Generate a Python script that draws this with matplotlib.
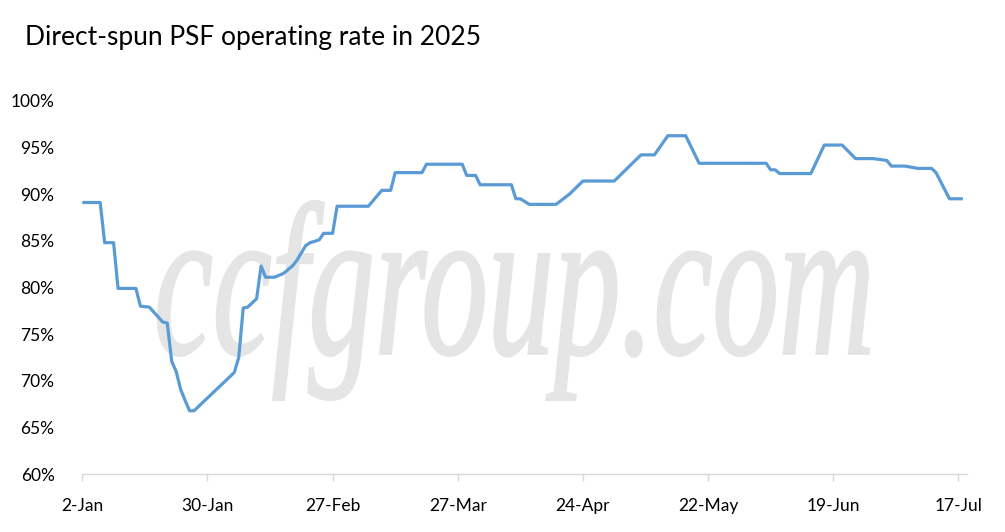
import matplotlib
matplotlib.use("Agg")
import matplotlib.pyplot as plt
import pandas as pd
from matplotlib.textpath import TextPath
from matplotlib.patches import PathPatch
from matplotlib.font_manager import FontProperties
from matplotlib.transforms import Affine2D
from matplotlib.ticker import FuncFormatter

# Taux de fonctionnement (points de rupture)
dates = [
    "2025-01-02", "2025-01-06", "2025-01-07", "2025-01-09", "2025-01-10",
    "2025-01-14", "2025-01-15", "2025-01-17", "2025-01-20", "2025-01-21",
    "2025-01-22", "2025-01-23", "2025-01-24", "2025-01-25", "2025-01-26",
    "2025-01-27", "2025-02-05", "2025-02-06", "2025-02-07", "2025-02-08",
    "2025-02-10", "2025-02-11", "2025-02-12", "2025-02-14", "2025-02-16",
    "2025-02-17", "2025-02-18", "2025-02-19", "2025-02-20", "2025-02-21",
    "2025-02-22", "2025-02-24", "2025-02-25", "2025-02-27", "2025-02-28",
    "2025-03-07", "2025-03-10", "2025-03-12", "2025-03-13", "2025-03-19",
    "2025-03-20", "2025-03-28", "2025-03-29", "2025-03-31", "2025-04-01",
    "2025-04-08", "2025-04-09", "2025-04-10", "2025-04-12", "2025-04-18",
    "2025-04-21", "2025-04-24", "2025-05-01", "2025-05-07", "2025-05-10",
    "2025-05-13", "2025-05-17", "2025-05-20", "2025-06-04", "2025-06-05",
    "2025-06-06", "2025-06-07", "2025-06-14", "2025-06-17", "2025-06-21",
    "2025-06-24", "2025-06-28", "2025-07-01", "2025-07-02", "2025-07-05",
    "2025-07-08", "2025-07-11", "2025-07-12", "2025-07-15", "2025-07-18",
]
taux = [
    89.1, 89.1, 84.8, 84.8, 79.9,
    79.9, 78.0, 77.9, 76.3, 76.2,
    72.1, 71.0, 69.1, 67.9, 66.8,
    66.8, 70.9, 72.5, 77.8, 77.9,
    78.8, 82.3, 81.1, 81.1, 81.5,
    81.9, 82.3, 82.9, 83.7, 84.5,
    84.8, 85.1, 85.8, 85.8, 88.7,
    88.7, 90.4, 90.4, 92.3, 92.3,
    93.2, 93.2, 92.0, 92.0, 91.0,
    91.0, 89.5, 89.5, 88.9, 88.9,
    90.0, 91.4, 91.4, 94.2, 94.2,
    96.25, 96.25, 93.3, 93.3, 92.6,
    92.6, 92.2, 92.2, 95.25, 95.25,
    93.8, 93.8, 93.6, 93.0, 93.0,
    92.75, 92.75, 92.3, 89.5, 89.5,
]
ticks_x = pd.date_range("2025-01-02", periods=8, freq="28D")
ticks_y = [60, 65, 70, 75, 80, 85, 90, 95, 100]

x = pd.to_datetime(dates)

W, H = 1005, 532
fig = plt.figure(figsize=(W / 100, H / 100), dpi=100, facecolor="white")
ax = fig.add_axes([82.3 / W, (H - 474.3) / H, (967.3 - 82.3) / W, (474.3 - 100.7) / H])

# Filigrane
tp = TextPath((0, 0), "ccfgroup.com", size=100,
              prop=FontProperties(family="Liberation Serif", style="italic"))
bb = tp.get_extents()
x0, x1, yb, yt = 158, 869, H - 400, H - 201
tr = (Affine2D().translate(-bb.x0, -bb.y0)
      .scale((x1 - x0) / bb.width, (yt - yb) / bb.height)
      .translate(x0, yb).scale(1 / W, 1 / H))
wm = PathPatch(tp, transform=tr + fig.transFigure, facecolor="#e5e5e5",
               edgecolor="#e5e5e5", linewidth=1.6, zorder=0, clip_on=False)
ax.add_artist(wm)

ax.plot(x, taux, color="#5B9BD5", linewidth=2.3, zorder=3,
        solid_joinstyle="round", solid_capstyle="butt")

ax.set_ylim(60, 100)
ax.set_xlim(pd.Timestamp("2025-01-02"), pd.Timestamp("2025-07-19"))
ax.set_yticks(ticks_y)
ax.yaxis.set_major_formatter(FuncFormatter(lambda v, p: f"{v:.0f}%"))
ax.set_xticks(ticks_x)
ax.set_xticklabels([f"{d.day}-{d.strftime('%b')}" for d in ticks_x])

for s in ["top", "right", "left"]:
    ax.spines[s].set_visible(False)
ax.spines["bottom"].set_color("#d9d9d9")
ax.spines["bottom"].set_linewidth(1.0)
ax.tick_params(axis="x", direction="out", length=5, width=1.0, color="#d9d9d9",
               labelsize=12.5, labelcolor="#000000", pad=12)
ax.tick_params(axis="y", length=0, labelsize=12.5, labelcolor="#000000", pad=20)
for lab in ax.get_xticklabels() + ax.get_yticklabels():
    lab.set_family("Lato")

fig.text(25 / W, 1 - 45 / H, "Direct-spun PSF operating rate in 2025",
         fontsize=19, family="Lato", color="#000000", ha="left", va="baseline")

fig.savefig("out.png", dpi=100, facecolor="white")
